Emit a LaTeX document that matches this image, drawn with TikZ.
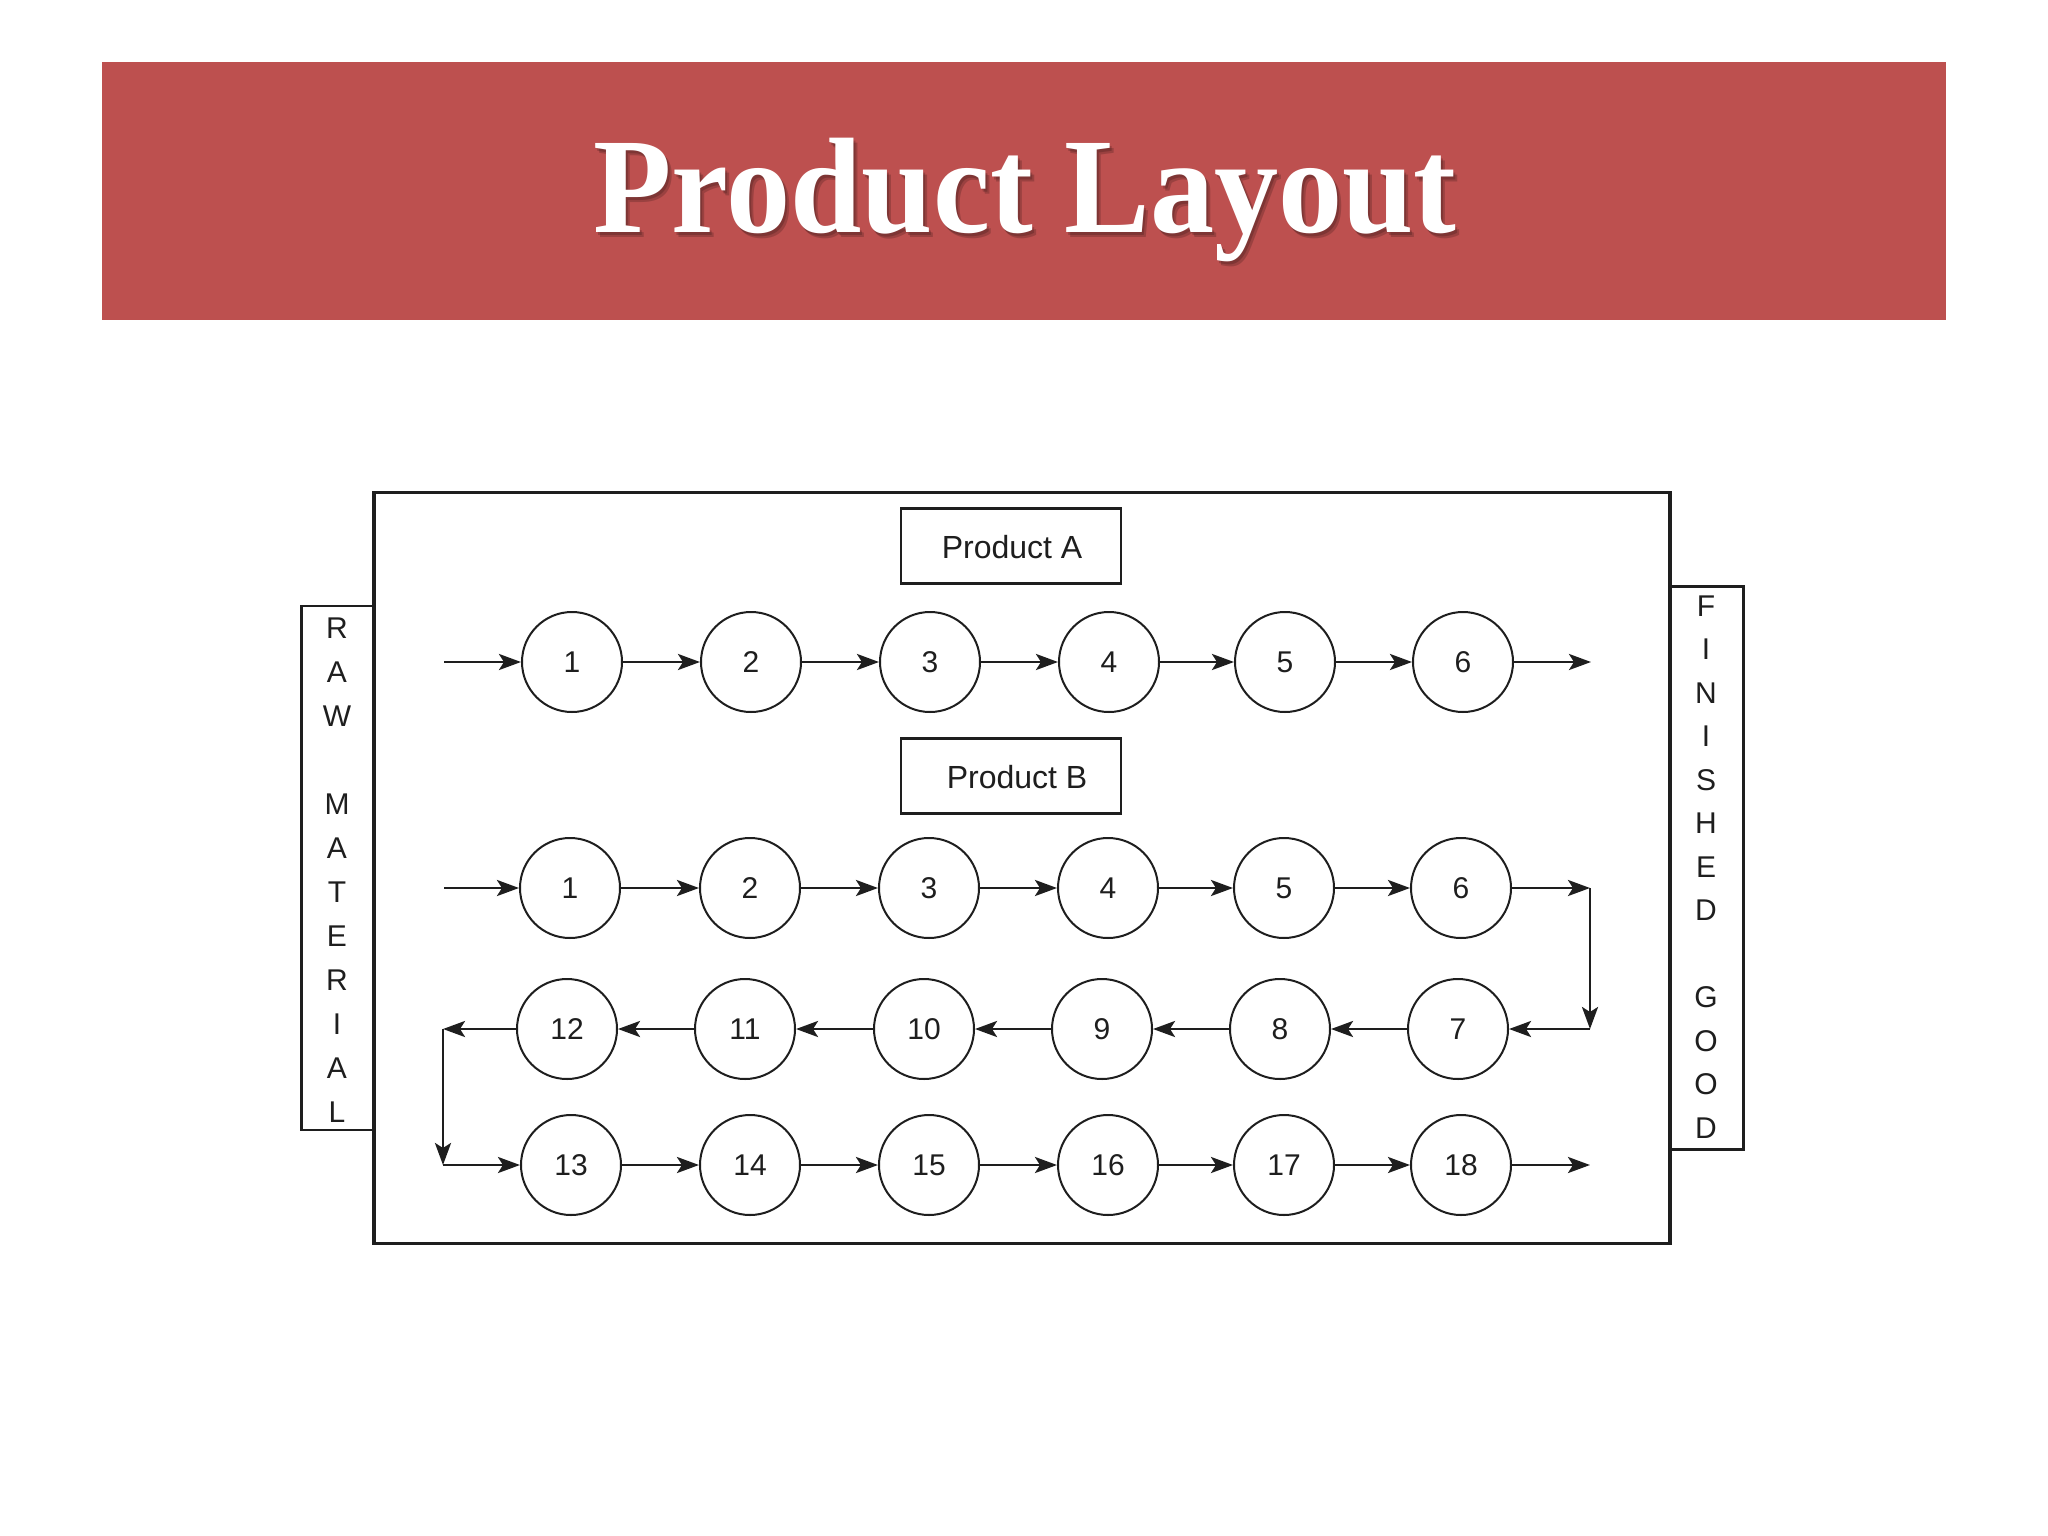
\documentclass[tikz,border=0pt]{standalone}
\usepackage{fontspec}
\setmainfont{Liberation Serif}
\newfontfamily\arialf{Liberation Sans}
\usetikzlibrary{arrows.meta}
\definecolor{banner}{HTML}{BD504F}
\definecolor{ink}{HTML}{1E1E1E}
\tikzset{
  frame/.style={draw=ink, line width=2.6pt, inner sep=0pt},
  station/.style={circle, draw=ink, line width=2pt, minimum size=100pt, inner sep=0pt,
    font=\arialf\fontsize{30}{30}\selectfont, text=ink},
  lbl/.style={font=\arialf\fontsize{30}{30}\selectfont, text=ink, inner sep=0pt},
  flow/.style={draw=ink, line width=2.8pt, -{Stealth[length=22pt,width=16pt,inset=5pt]}},
  plain/.style={draw=ink, line width=2.6pt},
  titlefont/.style={anchor=base, xscale=0.943, font=\bfseries\fontsize{136}{136}\selectfont},
}
\begin{document}
\begin{tikzpicture}[x=1pt,y=-1pt]
\useasboundingbox (0,0) rectangle (2048,1536);
\fill[white] (0,0) rectangle (2048,1536);
% banner
\node[fill=banner, minimum width=1844pt, minimum height=258pt, inner sep=0pt] (banner) at (1024,191) {};
\node[titlefont, text=black, opacity=0.18] (titleshadowa) at (1029,237) {Product Layout};
\node[titlefont, text=black, opacity=0.18] (titleshadowb) at (1027,235) {Product Layout};
\node[titlefont, text=white] (title) at (1025,232) {Product Layout};
% frames
\node[frame, fill=white, minimum width=1295pt, minimum height=751pt] (main) at (1022,868) {};
\node[frame, fill=white, minimum width=73pt, minimum height=524pt] (raw) at (338,868) {};
\node[frame, fill=white, minimum width=73pt, minimum height=563pt] (fin) at (1707,868) {};
\draw[plain] (main.north west) -- (main.south west);
\draw[plain] (main.north east) -- (main.south east);
% side letters
\foreach \ch [count=\i from 0] in {R,A,W,{},M,A,T,E,R,I,A,L} {
  \node[lbl] (rm\i) at (337,628+44*\i) {\ch};
}
\foreach \ch [count=\i from 0] in {F,I,N,I,S,H,E,D,{},G,O,O,D} {
  \node[lbl] (fg\i) at (1706,606+43.5*\i) {\ch};
}
% product labels
\node[frame, minimum width=220pt, minimum height=75pt] (pA) at (1011,546) {};
\node[lbl, font=\arialf\fontsize{32}{32}\selectfont] (pAt) at (1012,547) {Product A};
\node[frame, minimum width=220pt, minimum height=75pt] (pB) at (1011,776) {};
\node[lbl, font=\arialf\fontsize{32}{32}\selectfont] (pBt) at (1017,777) {Product B};
% product A stations
\foreach \x [count=\i] in {572,751,930,1109,1285,1463} {
  \node[station] (a\i) at (\x,662) {\i};
}
% product B stations
\foreach \x [count=\i] in {570,750,929,1108,1284,1461} {
  \node[station] (b\i) at (\x,888) {\i};
}
\foreach \x [count=\i from 7] in {1458,1280,1102,924,745,567} {
  \node[station] (b\i) at (\x,1029) {\i};
}
\foreach \x [count=\i from 13] in {571,750,929,1108,1284,1461} {
  \node[station] (b\i) at (\x,1165) {\i};
}
% coordinates
\coordinate (sA) at (444,662);
\coordinate (eA) at (1591,662);
\coordinate (sB) at (444,888);
\coordinate (r1) at (1590,888);
\coordinate (r2) at (1590,1029);
\coordinate (l1) at (443,1029);
\coordinate (l2) at (443,1165);
\coordinate (eB) at (1590,1165);
% product A flow
\draw[flow] (sA) -- (a1);
\foreach \i [evaluate=\i as \j using int(\i+1)] in {1,...,5} {
  \draw[flow] (a\i) -- (a\j);
}
\draw[flow] (a6) -- (eA);
% product B flow
\draw[flow] (sB) -- (b1);
\foreach \i [evaluate=\i as \j using int(\i+1)] in {1,...,5,7,8,9,10,11,13,14,15,16,17} {
  \draw[flow] (b\i) -- (b\j);
}
\draw[flow] (b6) -- (r1);
\draw[flow] (r1) -- (r2);
\draw[flow] (r2) -- (b7);
\draw[flow] (b12) -- (l1);
\draw[flow] (l1) -- (l2);
\draw[flow] (l2) -- (b13);
\draw[flow] (b18) -- (eB);
\end{tikzpicture}
\end{document}
